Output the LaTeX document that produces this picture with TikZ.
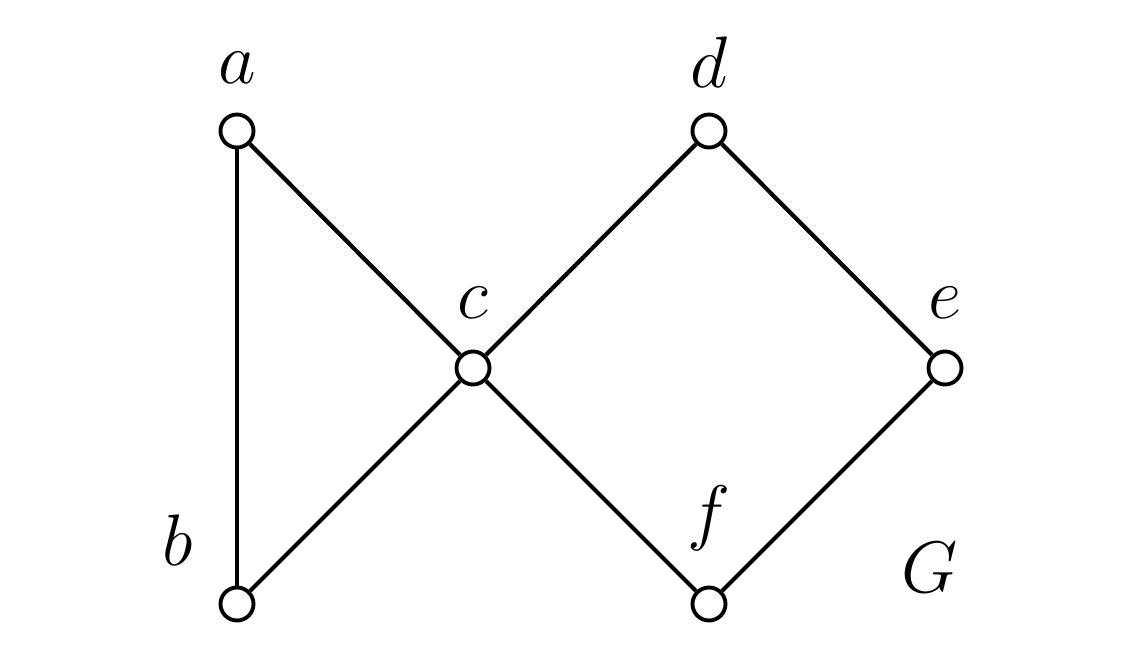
\documentclass[tikz,border=0pt]{standalone}
\begin{document}
\begin{tikzpicture}[x=0.01cm,y=-0.01cm,
  vtx/.style={circle,draw,fill=white,line width=1.1pt,minimum size=0.33cm,inner sep=0pt},
  edge/.style={line width=1.2pt},
  lbl/.style={font=\fontsize{21}{25}\selectfont}]
\useasboundingbox (0,0) rectangle (1138,654);
\node[vtx] (a) at (237,131) {};
\node[vtx] (b) at (237,604) {};
\node[vtx] (c) at (473,368) {};
\node[vtx] (d) at (709,131) {};
\node[vtx] (e) at (945,368) {};
\node[vtx] (f) at (709,604) {};
\begin{scope}[on background layer/.try]
\end{scope}
\draw[edge] (a) -- (b);
\draw[edge] (a) -- (c);
\draw[edge] (b) -- (c);
\draw[edge] (c) -- (d);
\draw[edge] (d) -- (e);
\draw[edge] (c) -- (f);
\draw[edge] (f) -- (e);
\node[lbl] (la) at (237,68) {$a$};
\node[lbl] (ld) at (709,62) {$d$};
\node[lbl] (lc) at (473,303) {$c$};
\node[lbl] (le) at (945,303) {$e$};
\node[lbl] (lb) at (178,540) {$b$};
\node[lbl] (lf) at (709,518) {$f$};
\node[lbl] (lG) at (930,568) {$G$};
\end{tikzpicture}
\end{document}
